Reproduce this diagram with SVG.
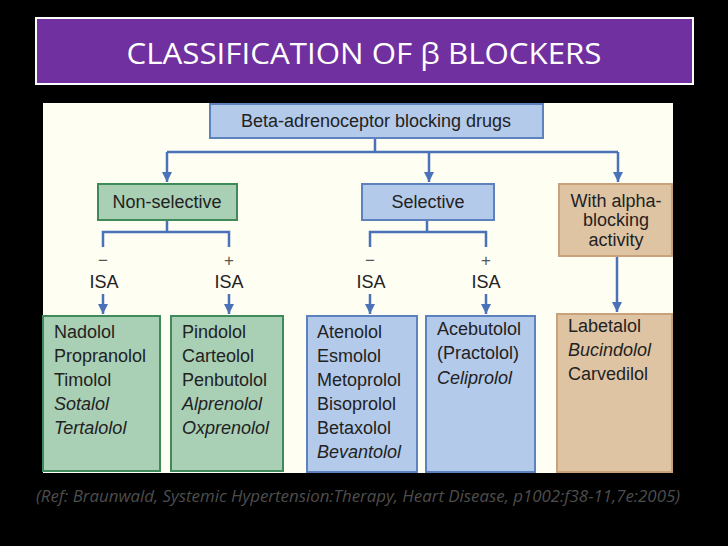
<svg xmlns="http://www.w3.org/2000/svg" width="728" height="546" viewBox="0 0 728 546">
<defs>
<style>
.t{font-family:"Liberation Sans",Arial,sans-serif;font-size:18px;fill:#222}
.i{font-style:italic}
.c{text-anchor:middle}
.g{fill:#A9CFB5;stroke:#3F8A5A;stroke-width:2}
.b{fill:#B4CAEA;stroke:#5E82BE;stroke-width:2}
.n{fill:#DFC4A4;stroke:#C9A27C;stroke-width:2}
.ln{fill:none;stroke:#4A72B8;stroke-width:2.5}
.sg{font-family:"Liberation Sans",Arial,sans-serif;font-size:17px;fill:#555;text-anchor:middle}
</style>
<marker id="ah" viewBox="0 0 10 10" refX="10" refY="5" markerWidth="4.2" markerHeight="4.2" orient="auto" markerUnits="strokeWidth">
<path d="M0,0 L10,5 L0,10 z" fill="#4A72B8"/>
</marker>
</defs>
<rect width="728" height="546" fill="#000"/>
<g id="title">
<rect x="36" y="18" width="657" height="66" fill="#7030A0" stroke="#fff" stroke-width="2"/>
<text x="364" y="64" text-anchor="middle" font-family="'Open Sans',sans-serif" font-size="29" fill="#fff" textLength="475" lengthAdjust="spacingAndGlyphs">CLASSIFICATION OF β BLOCKERS</text>
</g>
<rect x="43" y="103" width="630" height="370" fill="#FFFEF3"/>
<g id="connectors">
<path class="ln" d="M375,138 V152 M167,152 H618"/>
<path class="ln" d="M167,152 V182" marker-end="url(#ah)"/>
<path class="ln" d="M429,152 V182" marker-end="url(#ah)"/>
<path class="ln" d="M618,152 V182" marker-end="url(#ah)"/>
<path class="ln" d="M167,220 V232 M103,247 V232 H229 V247"/>
<path class="ln" d="M427,220 V232 M370,247 V232 H486 V247"/>
<path class="ln" d="M103,294 V314" marker-end="url(#ah)"/>
<path class="ln" d="M229,294 V314" marker-end="url(#ah)"/>
<path class="ln" d="M370,294 V314" marker-end="url(#ah)"/>
<path class="ln" d="M486,294 V314" marker-end="url(#ah)"/>
<path class="ln" d="M617,257 V312" marker-end="url(#ah)"/>
</g>
<g id="root">
<rect class="b" x="210" y="104" width="333" height="34"/>
<text class="t c" x="376" y="127">Beta-adrenoceptor blocking drugs</text>
</g>
<g id="nonselective">
<rect class="g" x="98" y="184" width="139" height="36"/>
<text class="t c" x="167" y="208">Non-selective</text>
</g>
<g id="selective">
<rect class="b" x="362" y="184" width="132" height="36"/>
<text class="t c" x="428" y="208">Selective</text>
</g>
<g id="alpha">
<rect class="n" x="559" y="184" width="113" height="72"/>
<text class="t c" x="616" y="207">With alpha-</text>
<text class="t c" x="616" y="226">blocking</text>
<text class="t c" x="616" y="246">activity</text>
</g>
<g id="isa-labels">
<text class="sg" x="103" y="266">−</text>
<text class="t c" x="104" y="288">ISA</text>
<text class="sg" x="229" y="266">+</text>
<text class="t c" x="229" y="288">ISA</text>
<text class="sg" x="370" y="266">−</text>
<text class="t c" x="371" y="288">ISA</text>
<text class="sg" x="486" y="266">+</text>
<text class="t c" x="486" y="288">ISA</text>
</g>
<g id="box-ns-minus">
<rect class="g" x="43" y="316" width="117" height="155"/>
<text class="t" x="54" y="338">Nadolol</text>
<text class="t" x="54" y="362">Propranolol</text>
<text class="t" x="54" y="386">Timolol</text>
<text class="t i" x="54" y="410">Sotalol</text>
<text class="t i" x="54" y="434">Tertalolol</text>
</g>
<g id="box-ns-plus">
<rect class="g" x="171" y="316" width="112" height="155"/>
<text class="t" x="182" y="338">Pindolol</text>
<text class="t" x="182" y="362">Carteolol</text>
<text class="t" x="182" y="386">Penbutolol</text>
<text class="t i" x="182" y="410">Alprenolol</text>
<text class="t i" x="182" y="434">Oxprenolol</text>
</g>
<g id="box-s-minus">
<rect class="b" x="307" y="316" width="110" height="156"/>
<text class="t" x="317" y="338">Atenolol</text>
<text class="t" x="317" y="362">Esmolol</text>
<text class="t" x="317" y="386">Metoprolol</text>
<text class="t" x="317" y="410">Bisoprolol</text>
<text class="t" x="317" y="434">Betaxolol</text>
<text class="t i" x="317" y="458">Bevantolol</text>
</g>
<g id="box-s-plus">
<rect class="b" x="426" y="316" width="109" height="156"/>
<text class="t" x="437" y="335">Acebutolol</text>
<text class="t" x="437" y="359">(Practolol)</text>
<text class="t i" x="437" y="384">Celiprolol</text>
</g>
<g id="box-alpha">
<rect class="n" x="557" y="314" width="115" height="158"/>
<text class="t" x="568" y="332">Labetalol</text>
<text class="t i" x="568" y="356">Bucindolol</text>
<text class="t" x="568" y="380">Carvedilol</text>
</g>
<text x="358" y="502" text-anchor="middle" font-family="'Open Sans',sans-serif" font-style="italic" font-size="16" fill="#4D4D4D" textLength="644" lengthAdjust="spacingAndGlyphs">(Ref: Braunwald, Systemic Hypertension:Therapy, Heart Disease, p1002:f38-11,7e:2005)</text>
</svg>
